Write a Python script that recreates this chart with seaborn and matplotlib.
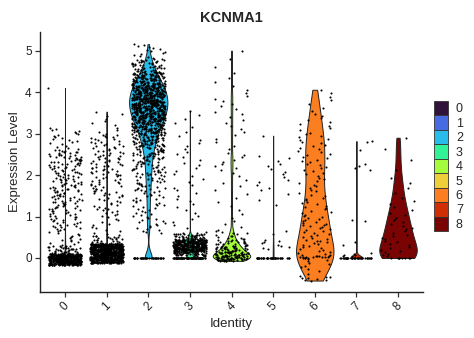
import numpy as np
import pandas as pd
import matplotlib
matplotlib.use("Agg")
import matplotlib.pyplot as plt
from matplotlib.patches import Patch
import seaborn as sns

# Cluster identities and their colours
identities = ["0", "1", "2", "3", "4", "5", "6", "7", "8"]
ident_colors = [matplotlib.colormaps["turbo"](v) for v in np.linspace(0, 1, len(identities))]

# KCNMA1 expression per identity, as bands of cells: (low, high, number of cells)
expr_0 = [(-0.17, 0.10, 420), (0.10, 0.30, 35), (0.30, 0.70, 18), (0.70, 1.20, 35),
          (1.20, 1.70, 45), (1.70, 2.20, 45), (2.20, 2.60, 40), (2.60, 3.15, 22),
          (4.10, 4.10, 1)]
expr_1 = [(-0.12, 0.35, 700), (0.35, 0.55, 25), (0.55, 1.00, 12), (1.00, 1.50, 22),
          (1.50, 2.00, 30), (2.00, 2.50, 35), (2.50, 3.00, 30), (3.00, 3.56, 10)]
expr_2 = [(0.00, 0.00, 40), (0.60, 1.20, 25), (1.20, 1.60, 20), (1.60, 2.00, 30),
          (2.00, 2.40, 40), (2.40, 2.70, 45), (2.70, 3.00, 70), (3.00, 3.30, 110),
          (3.30, 3.60, 160), (3.60, 3.90, 180), (3.90, 4.20, 160), (4.20, 4.50, 100),
          (4.50, 4.80, 45), (4.80, 5.17, 15)]
expr_3 = [(0.00, 0.00, 80), (0.05, 0.15, 40), (0.15, 0.45, 330), (0.45, 0.60, 40),
          (0.60, 1.20, 8), (1.20, 2.00, 12), (2.00, 2.80, 12), (2.80, 3.60, 8)]
expr_4 = [(-0.07, 0.05, 60), (0.05, 0.15, 40), (0.15, 0.30, 35), (0.30, 0.45, 20),
          (0.45, 0.65, 12), (0.65, 1.00, 5), (1.00, 1.60, 6), (1.60, 2.10, 6),
          (2.10, 2.50, 8), (2.50, 3.00, 6), (3.00, 3.50, 7), (3.50, 4.00, 8),
          (4.00, 4.50, 5), (4.50, 5.10, 3)]
expr_5 = [(0.00, 0.00, 45), (0.20, 0.45, 9), (0.55, 0.70, 2), (1.20, 1.60, 3),
          (1.60, 2.50, 14), (2.95, 2.95, 1)]
expr_6 = [(-0.55, -0.45, 8), (-0.45, -0.20, 5), (-0.20, 0.00, 6), (0.00, 0.05, 15),
          (0.05, 0.50, 20), (0.50, 1.00, 22), (1.00, 1.50, 16), (1.50, 2.00, 12),
          (2.00, 2.50, 14), (2.50, 3.00, 14), (3.00, 3.50, 10), (3.50, 4.10, 7)]
expr_7 = [(0.00, 0.00, 40), (0.03, 0.12, 6), (0.30, 0.40, 2), (0.88, 0.92, 2),
          (2.10, 2.30, 4), (2.55, 2.65, 1), (2.80, 2.82, 2)]
expr_8 = [(0.00, 0.00, 8), (0.02, 0.25, 7), (0.25, 0.50, 7), (0.50, 0.75, 6),
          (0.75, 1.00, 5), (1.00, 1.25, 4), (1.25, 1.50, 3), (1.50, 1.75, 2),
          (1.75, 2.00, 2), (2.00, 2.50, 2), (2.50, 2.75, 1), (2.90, 2.90, 1)]
expression_bands = [expr_0, expr_1, expr_2, expr_3, expr_4, expr_5, expr_6, expr_7, expr_8]


def expand_bands(bands):
    vals = []
    for lo, hi, n in bands:
        if hi == lo:
            vals.extend([lo] * n)
        else:
            vals.extend(lo + (hi - lo) * (np.arange(n) + 0.5) / n)
    return np.asarray(vals, dtype=float)


frames = [pd.DataFrame({"identity": ident, "expr": expand_bands(b)})
          for ident, b in zip(identities, expression_bands)]
cells = pd.concat(frames, ignore_index=True)

# Violin geometry per identity: full width and kernel bandwidth (expression units)
violin_width = [0.02, 0.02, 0.92, 0.30, 0.90, 0.02, 0.90, 0.30, 0.90]
violin_bw = [0.30, 0.30, 0.15, 0.04, 0.08, 0.30, 0.33, 0.05, 0.24]

sns.set_style("white")
plt.rcParams["font.family"] = ["Liberation Sans", "DejaVu Sans"]

W, H = 474, 338
fig = plt.figure(figsize=(W / 100, H / 100), dpi=100)
ax = fig.add_axes([40 / W, 46 / H, 383 / W, 260 / H])

for ident, col, w, bw in zip(identities, ident_colors, violin_width, violin_bw):
    sub = cells[cells["identity"] == ident]
    sns.violinplot(data=sub, x="identity", y="expr", order=identities,
                   color=col, saturation=1, width=w,
                   bw_method=bw / sub["expr"].std(ddof=1), cut=0, gridsize=300,
                   inner=None, density_norm="width", linewidth=0.7,
                   linecolor="#222222", ax=ax)

np.random.seed(11)
sns.stripplot(data=cells, x="identity", y="expr", order=identities,
              color="black", size=1.5, jitter=0.4, linewidth=0, ax=ax)

ax.set_xlim(-0.6, 8.6)
ax.set_ylim(-0.82, 5.45)
ax.set_yticks([0, 1, 2, 3, 4, 5])
for s in ["top", "right"]:
    ax.spines[s].set_visible(False)
for s in ["left", "bottom"]:
    ax.spines[s].set_color("#222222")
    ax.spines[s].set_linewidth(1.0)
ax.tick_params(axis="both", which="major", length=3.5, width=0.9, color="#333333",
               labelsize=8.5, labelcolor="#222222", pad=2.5, left=True, bottom=True)
plt.setp(ax.get_xticklabels(), rotation=45, ha="center", va="top")
ax.set_xlabel("Identity", fontsize=9.5, labelpad=3)
ax.set_ylabel("Expression Level", fontsize=9.5, labelpad=3)
ax.set_title("KCNMA1", fontsize=10.5, fontweight="bold", pad=7)

handles = [Patch(facecolor=c, edgecolor="#333333", linewidth=0.6) for c in ident_colors]
fig.legend(handles, identities, loc="upper left", bbox_to_anchor=(434 / W, 1 - 101 / H),
           frameon=False, fontsize=9, handlelength=1.15, handleheight=1.4,
           labelspacing=0.0, handletextpad=0.6, borderpad=0, borderaxespad=0)

fig.savefig("out.png", dpi=100, facecolor="white")
